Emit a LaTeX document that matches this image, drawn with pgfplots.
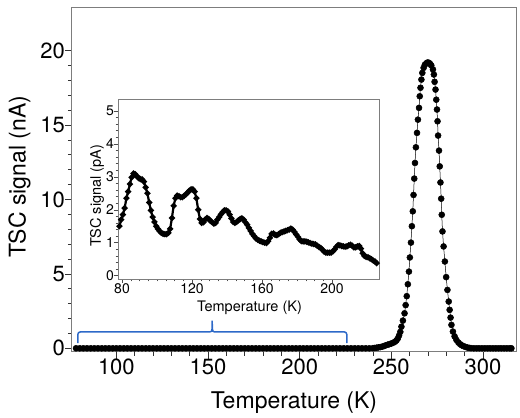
\documentclass[border=0pt]{standalone}
\usepackage{fontspec}
\setmainfont{TeX Gyre Heros}
\usepackage{pgfplots}
\pgfplotsset{compat=1.18}
\definecolor{bcol}{RGB}{45,105,200}
\definecolor{fr}{RGB}{125,125,125}
\begin{document}
\begin{tikzpicture}
\useasboundingbox (0,0) rectangle (520pt,418pt);
\begin{axis}[
  at={(72pt,66.3pt)}, anchor=south west,
  scale only axis, width=444pt, height=343.7pt,
  xmin=75.8, xmax=318, ymin=-0.23, ymax=22.86,
  xtick={100,150,200,250,300}, minor x tick num=4,
  ytick={0,5,10,15,20}, minor y tick num=4,
  xtick pos=bottom, ytick pos=left,
  tick align=outside, major tick length=7pt, minor tick length=4pt,
  axis line style={fr, line width=1pt},
  tick style={black!80, line width=0.6pt},
  /pgf/number format/assume math mode=true,
  ticklabel style={font=\fontsize{22}{22}\selectfont, inner sep=0pt},
  xticklabel style={anchor=north},
  yticklabel style={anchor=east},
  label style={font=\fontsize{23}{23}\selectfont},
  xlabel={Temperature (K)}, ylabel={TSC signal (nA)},
  xlabel style={at={(axis description cs:0.5,-0.1647)}, anchor=base},
  ylabel style={at={(axis description cs:-0.1047,0.509)}, anchor=base},
  clip=false,
]
\addplot[black, line width=0.5pt, mark=*, mark size=3pt] coordinates {
(78,0)(80,0)(82,0)(84,0)(86,0)(88,0)(90,0)(92,0)(94,0)(96,0)(98,0)(100,0)
(102,0)(104,0)(106,0)(108,0)(110,0)(112,0)(114,0)(116,0)(118,0)(120,0)
(122,0)(124,0)(126,0)(128,0)(130,0)(132,0)(134,0)(136,0)(138,0)(140,0)
(142,0)(144,0)(146,0)(148,0)(150,0)(152,0)(154,0)(156,0)(158,0)(160,0)
(162,0)(164,0)(166,0)(168,0)(170,0)(172,0)(174,0)(176,0)(178,0)(180,0)
(182,0)(184,0)(186,0)(188,0)(190,0)(192,0)(194,0)(196,0)(198,0)(200,0)
(202,0)(204,0)(206,0)(208,0)(210,0)(212,0)(214,0)(216,0)(218,0)(220,0)
(222,0)(224,0)(226,0)(228,0)(230,0)(232,0)(234,0)(236,0)(238,0)
(240,0.01)(241,0.02)(242,0.04)(243,0.06)(244,0.08)(245,0.11)(246,0.15)
(247,0.20)(248,0.24)(249,0.28)(250,0.32)(251,0.37)(252,0.44)(252.8,0.53)
(253.5,0.65)(254.2,0.85)(254.9,1.10)(255.5,1.45)(256.3,1.86)(257.2,2.35)
(257.8,2.90)(258.4,3.50)(259.0,4.30)(259.6,5.15)(260.1,6.10)(260.7,7.10)
(261.2,8.20)(261.7,9.20)(262.1,10.30)(262.5,11.40)(262.9,12.45)(263.4,13.50)
(264.0,14.47)(264.5,15.36)(265.1,16.15)(265.5,16.93)(265.9,17.50)(266.4,18.05)
(266.9,18.50)(267.6,18.84)(268.3,19.05)(269.1,19.15)(269.8,19.20)(270.5,19.18)
(271.2,19.10)(271.8,19.00)(272.7,18.73)(273.2,18.39)(273.6,17.90)(274.1,17.38)
(274.5,16.70)(274.9,16.04)(275.2,15.25)(275.5,14.29)(276.0,13.28)(276.4,12.22)
(276.8,11.14)(277.2,10.05)(277.5,8.97)(277.9,7.85)(278.5,6.84)(279.2,5.83)
(279.9,4.78)(280.6,3.92)(281.3,3.14)(281.8,2.58)(282.3,2.06)(282.8,1.57)
(283.6,1.12)(284.5,0.80)(285.5,0.56)(286.6,0.38)(287.6,0.27)(288.4,0.20)
(289.4,0.14)(290.5,0.09)(291.5,0.05)(292.5,0.03)(293.5,0.01)
(295,0)(296.5,0)(298,0)(299.5,0)(301,0)(302.5,0)(304,0)(305.5,0)(307,0)
(308.5,0)(310,0)(311.5,0)(313,0)(314.5,0)(315.5,0)
};
\draw[bcol, line width=1.5pt, rounded corners=2.5pt]
  (axis cs:79,0.35) -- (axis cs:79,1.1) -- (axis cs:151.3,1.1);
\draw[bcol, line width=1.5pt, rounded corners=2.5pt]
  (axis cs:225.7,0.35) -- (axis cs:225.7,1.1) -- (axis cs:153.3,1.1);
\draw[bcol, line width=1.5pt]
  (axis cs:151.2,1.1) .. controls (axis cs:152.3,1.1) and (axis cs:152.3,1.3) .. (axis cs:152.3,1.85)
  .. controls (axis cs:152.3,1.3) and (axis cs:152.3,1.1) .. (axis cs:153.4,1.1);
\end{axis}
\begin{axis}[
  at={(118pt,139pt)}, anchor=south west,
  scale only axis, width=261.3pt, height=179.7pt,
  xmin=77.7, xmax=227, ymin=-0.1, ymax=5.35,
  xtick={80,120,160,200}, minor x tick num=7,
  ytick={0,1,2,3,4,5}, minor y tick num=4,
  xtick pos=bottom, ytick pos=left,
  tick align=outside, major tick length=4pt, minor tick length=2.5pt,
  axis line style={fr, line width=0.8pt},
  tick style={black!70, line width=0.5pt},
  axis background/.style={fill=white},
  /pgf/number format/assume math mode=true,
  ticklabel style={font=\fontsize{14}{14}\selectfont, inner sep=0pt},
  xticklabel style={anchor=north},
  yticklabel style={anchor=east},
  label style={font=\fontsize{14.5}{14.5}\selectfont},
  xlabel={Temperature (K)}, ylabel={TSC signal (pA)},
  xlabel style={at={(axis description cs:0.503,-0.182)}, anchor=base},
  ylabel style={at={(axis description cs:-0.066,0.463)}, anchor=base},
]
\addplot[black, line width=2.2pt, mark=*, mark size=1.8pt] coordinates {
(78.5,1.50)(79.5,1.70)(80.5,1.85)(81.5,2.05)(82.5,2.35)(83.5,2.55)(84.5,2.78)
(85.5,2.98)(86.5,3.10)(87.5,3.08)(88.5,3.02)(89.5,2.96)(90.5,2.93)(91.5,2.92)
(92.5,2.85)(93.5,2.68)(94.5,2.50)(95.5,2.22)(96.5,1.98)(97.5,1.78)(98.5,1.63)
(99.5,1.50)(100.5,1.42)(101.5,1.35)(102.5,1.30)(103.5,1.27)(104.5,1.26)
(105.5,1.26)(106.5,1.30)(107.5,1.42)(108.5,1.75)(109.5,2.12)(110.5,2.35)
(111.5,2.43)(112.5,2.41)(113.5,2.38)(114.5,2.38)(115.5,2.42)(116.5,2.47)
(117.5,2.52)(118.5,2.58)(119.5,2.62)(120.5,2.62)(121.5,2.55)(122.5,2.35)
(123.5,2.00)(124.5,1.72)(125.5,1.60)(126.5,1.62)(127.5,1.70)(128.5,1.75)
(129.5,1.72)(130.5,1.66)(131.5,1.62)(132.5,1.58)(133.5,1.60)(134.5,1.70)
(135.5,1.78)(136.5,1.86)(137.5,1.93)(138.5,1.98)(139.5,1.98)(140.5,1.95)
(141.5,1.85)(142.5,1.74)(143.5,1.63)(144.5,1.60)(145.5,1.63)(146.5,1.68)
(147.5,1.72)(148.5,1.74)(149.5,1.70)(150.5,1.62)(151.5,1.55)(152.5,1.45)
(153.5,1.36)(154.5,1.27)(155.5,1.20)(156.5,1.13)(157.5,1.09)(158.5,1.06)
(159.5,1.04)(160.5,1.02)(161.5,1.00)(162.5,0.99)(163.5,1.05)(164.5,1.15)
(165.5,1.27)(166.5,1.28)(167.5,1.24)(168.5,1.23)(169.5,1.26)(170.5,1.30)
(171.5,1.32)(172.5,1.34)(173.5,1.36)(174.5,1.38)(175.5,1.40)(176.5,1.43)
(177.5,1.40)(178.5,1.33)(179.5,1.25)(180.5,1.18)(181.5,1.10)(182.5,1.05)
(183.5,1.04)(184.5,1.04)(185.5,1.03)(186.5,1.01)(187.5,0.99)(188.5,0.97)
(189.5,0.96)(190.5,0.95)(191.5,0.91)(192.5,0.87)(193.5,0.84)(194.5,0.79)
(195.5,0.73)(196.5,0.70)(197.5,0.70)(198.5,0.70)(199.5,0.70)(200.5,0.74)
(201.5,0.80)(202.5,0.88)(203.5,0.93)(204.5,0.92)(205.5,0.90)(206.5,0.89)
(207.5,0.88)(208.5,0.89)(209.5,0.92)(210.5,0.94)(211.5,0.91)(212.5,0.86)
(213.5,0.86)(214.5,0.89)(215.5,0.90)(216.5,0.82)(217.5,0.68)(218.5,0.60)
(219.5,0.57)(220.5,0.56)(221.5,0.53)(222.5,0.50)(223.5,0.46)(224.5,0.43)
(225.5,0.38)
};
\end{axis}
\end{tikzpicture}
\end{document}
